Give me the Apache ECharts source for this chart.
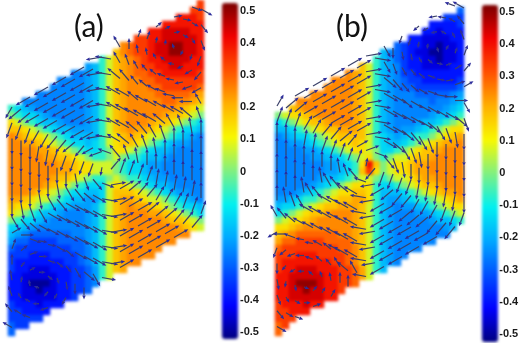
<!DOCTYPE html>
<html><head><meta charset="utf-8">
<style>html,body{margin:0;padding:0;background:#fff}#heat,#over{position:absolute;left:0;top:0;width:520px;height:343px}#heat{filter:blur(1.5px)}</style>
<script src="https://cdn.jsdelivr.net/npm/echarts@6/dist/echarts.min.js"></script></head>
<body><div id="heat"></div><div id="over"></div>
<script>
const panelLabels=['(a)','(b)'];
const barTicks=[-0.5,-0.4,-0.3,-0.2,-0.1,0,0.1,0.2,0.3,0.4,0.5];
const jet=['#00007f','#0000ff','#0050ff','#00a8ff','#00f0f0','#80f080','#f8f800','#ffb000','#ff5000','#f00000','#7a0000'];
const levelValues=[0,0.07,0.14,0.18,0.22,0.25,0.29,0.34,0.39,0.44,0.5];
const heatStartA=[27,26,24,22,20,18,16,15,13,11,9,7,6,4,2,0,0,0,0,0,0,0,0,0,0,0,0,0,0,0,0,0,0,0,0,0,0,0,0,0,0,0,0,0,0,0,0,0];
const heatA=[[7],[7,7],[8,8,8,7],[8,8,8,8,8,8],[8,8,9,9,9,9,8,8],[7,7,8,8,9,9,9,9,9,8],
[5,6,7,7,8,9,9,10,10,9,9,8],[3,5,6,7,7,8,9,9,10,10,9,9,8],[-1,1,3,4,5,6,7,8,8,9,9,9,9,8,8],
[-4,-3,-1,1,3,4,5,6,7,7,8,8,9,9,8,8,8],[-5,-5,-4,-3,-1,1,3,4,5,6,6,7,7,8,8,8,8,8,7],
[-5,-5,-5,-5,-4,-3,-1,1,3,4,5,5,6,6,7,7,7,7,7,7,7],[-5,-5,-5,-5,-5,-4,-3,-1,1,3,4,5,5,5,6,6,7,7,7,7,7,6],
[-5,-5,-5,-5,-5,-5,-5,-4,-3,-1,1,3,4,5,5,5,5,6,6,6,6,6,5,4],
[-5,-5,-5,-5,-5,-5,-5,-5,-5,-4,-3,-1,1,3,4,5,5,5,5,5,6,6,5,5,4,3],
[-1,-2,-3,-4,-5,-5,-5,-5,-5,-5,-5,-4,-3,-1,1,3,4,5,5,5,5,5,5,5,4,3,2,1],
[0,-1,-2,-2,-3,-4,-5,-5,-5,-5,-5,-4,-3,-1,1,3,4,5,5,5,5,5,4,3,3,2,1,0],
[2,1,0,-1,-2,-3,-3,-4,-5,-5,-5,-4,-3,-1,1,3,4,5,5,5,4,3,3,2,1,0,-1,-2],
[3,3,2,1,0,-1,-2,-3,-3,-4,-4,-4,-3,-1,1,3,4,5,4,4,3,2,1,0,-1,-2,-2,-3],
[5,4,3,2,2,1,0,-1,-2,-3,-3,-3,-3,-1,1,2,3,4,3,2,1,1,0,-1,-2,-3,-4,-5],
[5,5,4,4,3,2,1,0,-1,-2,-2,-3,-2,-1,1,2,3,3,2,1,0,-1,-2,-3,-4,-4,-5,-5],
[5,5,5,5,4,4,3,2,1,0,-1,-2,-2,-1,0,2,2,1,0,-1,-2,-3,-3,-4,-5,-5,-5,-5],
[5,5,5,5,5,4,4,3,3,2,1,0,-1,-1,0,1,0,-1,-1,-2,-3,-3,-4,-5,-5,-5,-5,-5],
[5,5,5,5,5,5,5,4,4,3,2,2,1,1,1,0,-1,-2,-2,-3,-4,-4,-5,-5,-5,-5,-5,-5],
[5,5,5,5,5,5,5,4,4,3,2,2,1,1,1,0,-1,-2,-2,-3,-4,-4,-5,-5,-5,-5,-5,-5],
[5,5,5,5,5,5,4,3,3,2,1,0,-1,-1,0,1,0,-1,-1,-2,-3,-4,-4,-5,-5,-5,-5,-5],
[5,5,5,5,5,4,3,2,1,0,-1,-2,-2,-2,1,2,2,1,0,-1,-2,-3,-3,-4,-5,-5,-5,-5],
[5,5,5,4,3,2,1,0,-1,-2,-2,-3,-3,-2,1,3,3,3,2,1,0,-1,-2,-3,-4,-4,-5,-5],
[4,4,3,2,1,1,0,-1,-2,-3,-3,-4,-4,-2,1,3,4,4,3,2,1,1,0,-1,-2,-3,-4,-5],
[3,2,2,1,0,-1,-2,-3,-3,-4,-4,-4,-3,-1,1,3,4,5,4,4,3,2,1,0,-1,-2,-2,-3],
[2,1,0,-1,-2,-3,-3,-4,-5,-5,-5,-4,-3,-1,1,3,4,5,5,5,4,4,3,2,1,0,-1,-2],
[0,-1,-2,-2,-3,-4,-5,-5,-5,-5,-5,-4,-3,-1,1,3,4,5,5,5,5,5,4,3,3,2,1,0],
[-2,-2,-3,-4,-5,-5,-5,-5,-5,-5,-5,-4,-3,-1,1,3,4,5,5,5,5,5,5,5,4,3,2,1],
[-3,-4,-5,-6,-6,-6,-6,-6,-6,-5,-5,-4,-3,-1,1,3,4,5,5,5,5,5,5,5,5,5],
[-4,-6,-6,-7,-7,-7,-7,-6,-6,-6,-6,-4,-3,-1,1,3,4,5,5,5,5,5,5,5],
[-6,-7,-7,-7,-7,-7,-7,-7,-7,-6,-6,-5,-3,-1,1,3,4,5,5,5,5,5],
[-7,-7,-7,-8,-8,-8,-7,-7,-7,-7,-6,-5,-3,-1,1,3,4,5,5,5,5],
[-7,-8,-8,-8,-8,-8,-8,-8,-7,-7,-6,-5,-3,-1,1,3,4,5,5],
[-7,-8,-8,-9,-9,-9,-8,-8,-8,-7,-7,-6,-4,-1,1,3,4],
[-8,-8,-9,-9,-9,-9,-9,-8,-8,-7,-7,-6,-4,-1,1],
[-8,-8,-9,-10,-10,-10,-9,-8,-8,-7,-7,-6,-5],
[-8,-8,-9,-9,-10,-9,-9,-8,-8,-7,-7,-6],
[-8,-8,-9,-9,-9,-9,-9,-8,-8,-7],
[-7,-8,-8,-8,-9,-8,-8,-8],[-7,-7,-8,-8,-8,-8],[-7,-7,-7,-7,-7],[-6,-7,-7],[-6]];
const heatStartB=[0,26,24,22,21,19,17,15,14,12,10,8,7,5,3,2,0,0,0,0,0,0,0,0,0,0,0,0,0,0,0,0,0,0,0,0,0,0,0,0,0,0,0,0,0,0,0,0];
const heatB=[[],[-6],[-7,-7,-7],[-8,-8,-8,-8,-7],[-8,-8,-9,-8,-8,-8],[-8,-8,-9,-9,-9,-9,-8,-8],
[-6,-7,-8,-8,-9,-9,-10,-9,-9,-8],[-3,-5,-6,-7,-8,-9,-9,-10,-10,-9,-9,-8],
[-1,-3,-4,-6,-7,-8,-8,-9,-9,-10,-9,-9,-8],[3,1,-1,-3,-4,-5,-7,-8,-8,-9,-9,-9,-9,-8,-8],
[5,4,3,1,-1,-3,-4,-5,-7,-7,-8,-8,-8,-8,-8,-8,-8],[5,5,5,4,3,1,-1,-3,-4,-5,-6,-7,-7,-8,-8,-8,-8,-8,-7],
[5,5,5,5,4,3,1,-1,-3,-4,-5,-6,-6,-7,-7,-7,-7,-7,-7,-6],
[5,5,5,5,5,5,4,3,1,-1,-3,-4,-5,-5,-5,-6,-6,-6,-6,-6,-5,-4],
[5,5,5,5,5,5,5,5,4,3,1,-1,-3,-4,-5,-5,-5,-5,-5,-6,-5,-5,-4,-3],
[3,4,5,5,5,5,5,5,5,4,3,1,-1,-3,-4,-5,-5,-5,-5,-5,-5,-5,-4,-3,-2],
[0,1,2,2,3,4,5,5,5,5,5,4,3,1,-1,-3,-4,-5,-5,-5,-5,-5,-4,-3,-3,-2,-1],
[-2,-1,0,1,2,3,3,4,5,5,5,4,3,1,-1,-3,-4,-5,-5,-5,-4,-3,-3,-2,-1,0,1],
[-3,-3,-2,-1,0,1,2,3,3,4,4,4,3,1,-1,-3,-4,-5,-4,-4,-3,-2,-1,0,1,2,2],
[-5,-4,-3,-2,-2,-1,0,1,2,3,3,3,3,1,-1,-2,-3,-4,-3,-2,-1,-1,0,1,2,3,4],
[-5,-5,-4,-4,-3,-2,-1,0,1,2,2,3,2,1,-1,-2,-3,-3,-2,-1,0,1,2,3,4,4,5],
[-5,-5,-5,-5,-4,-4,-3,-2,-1,0,1,2,2,1,0,-2,-2,-1,0,1,2,3,3,4,5,5,5],
[-5,-5,-5,-5,-5,-4,-4,-3,-3,-2,-1,0,1,2,0,-1,0,1,1,2,3,3,4,5,5,5,5],
[-5,-5,-5,-5,-5,-5,-5,-4,-4,-3,-2,-1,2,8,3,0,1,2,2,3,4,4,5,5,5,5,5],
[-5,-5,-5,-5,-5,-5,-5,-4,-4,-3,-2,-1,3,7,2,0,1,2,2,3,4,4,5,5,5,5,5],
[-5,-5,-5,-5,-5,-5,-4,-3,-3,-2,-1,0,1,1,0,-1,0,1,1,2,3,4,4,5,5,5,5],
[-5,-5,-5,-5,-5,-4,-3,-2,-1,0,1,2,2,2,-1,-2,-2,-1,0,1,2,3,3,4,5,5,5],
[-5,-5,-5,-4,-3,-2,-1,0,1,2,2,3,3,2,-1,-3,-3,-3,-2,-1,0,1,2,3,4,4,5],
[-4,-4,-3,-2,-1,-1,0,1,2,3,3,4,4,2,-1,-3,-4,-4,-3,-2,-1,-1,0,1,2,3,4],
[-3,-2,-2,-1,0,1,2,3,3,4,4,4,3,1,-1,-3,-4,-5,-4,-4,-3,-2,-1,0,1,2,2],
[-2,-1,0,1,2,3,3,4,5,5,5,4,3,1,-1,-3,-4,-5,-5,-5,-4,-4,-3,-2,-1,0,1],
[0,1,2,2,3,4,5,5,5,5,5,4,3,1,-1,-3,-4,-5,-5,-5,-5,-5,-4,-3,-3,-2,-1],
[2,2,3,4,5,5,5,5,5,5,5,4,3,1,-1,-3,-4,-5,-5,-5,-5,-5,-5,-5,-4,-3],
[3,4,5,6,6,6,6,6,6,5,5,4,3,1,-1,-3,-4,-5,-5,-5,-5,-5,-5,-5,-5],
[4,6,6,7,7,7,7,6,6,6,6,4,3,1,-1,-3,-4,-5,-5,-5,-5,-5,-5],
[6,7,7,7,7,7,7,7,7,6,6,5,3,1,-1,-3,-4,-5,-5,-5,-5],
[7,7,7,8,8,8,7,7,7,7,6,5,3,1,-1,-3,-4,-5,-5],
[7,8,8,8,8,8,8,8,7,7,6,5,3,1,-1,-3,-4,-5],
[7,8,8,9,9,9,8,8,8,7,7,6,4,1,-1,-3],
[8,8,9,9,9,9,9,8,8,7,7,6,4,1],
[8,8,9,10,10,10,9,8,8,7,7,6],
[8,8,9,9,10,9,9,8,8,7],
[8,8,9,9,9,9,9,8,8],
[7,8,8,8,9,8,8],[7,7,8,8,8],[7,7,7],[6,7],[6]];
const arrowXA=[12,21,30,39,48,57,66,75,84,93,102,111,120,129,138,147,156,165,174,183,192,201];
const arrowY0A=[107,109,97,99,87,89,77,79,67,69,57,59,47,49,37,39,27,29,17,19,7,9];
const arrowXB=[277,286,295,304,313,322,331,340,348,357,366,375,384,393,402,411,419,428,437,446,455,464];
const arrowY0B=[106,108,96,98,86,88,76,78,66,68,56,58,46,48,36,38,26,28,16,18,6,8];
const arrowRowStep=15.75;
const arrowAngA=[[24,25,27,27,27,27,27,30,3,7,9,10,11,13,15],[22,25,27,27,27,27,28,31,0,4,5,8,12,15],[21,22,25,27,27,27,27,29,32,34,2,3,10,15,16],[21,21,24,26,27,27,28,30,33,35,0,0,16,18],[21,21,21,24,26,27,27,30,33,33,35,34,32,23,20],[21,21,21,23,25,27,28,31,33,33,33,32,29,24],[21,21,21,21,23,25,27,30,33,33,33,32,31,28,24],[21,21,21,21,22,25,28,31,33,33,33,33,30,27],[21,21,21,21,21,23,25,29,32,33,33,33,33,32,27],[21,21,21,21,21,21,25,31,33,33,33,33,33,30],[19,19,19,19,19,19,20,26,34,35,35,35,35,35,35],[17,17,17,17,17,17,16,5,1,1,1,1,1,1],[12,12,14,15,15,15,15,13,7,3,3,3,3,3,3],[9,11,13,15,15,15,14,11,7,4,3,3,3,3],[7,10,12,13,14,15,14,12,10,7,5,3,3,3,3],[7,10,13,14,15,15,13,11,9,7,5,4,3,3],[4,8,12,14,15,15,15,12,10,9,8,6,4,3,3],[3,8,14,16,16,15,14,11,9,9,8,6,4,3],[1,1,11,17,17,17,15,12,9,9,9,8,6,5,3],[35,33,24,20,19,18,15,11,9,9,9,8,7,5],[34,33,30,25,21,20,18,14,10,9,9,9,8,7,5],[33,31,29,25,23,21,12,11,9,9,9,9,9,7]];
const arrowAngB=[[6,7,9,9,9,9,9,12,21,25,27,28,29,31,33],[4,7,9,9,9,9,10,13,18,22,23,26,30,33],[3,4,7,9,9,9,9,11,14,16,20,21,28,33,34],[3,3,6,8,9,9,10,12,15,17,18,18,34,0],[3,3,3,6,8,9,9,12,15,15,17,16,14,5,2],[3,3,3,5,7,9,10,13,15,15,15,14,11,6],[3,3,3,3,5,7,9,12,15,15,15,14,13,10,6],[3,3,3,3,4,7,10,13,15,15,15,15,12,9],[3,3,3,3,3,5,7,11,14,15,15,15,15,14,9],[3,3,3,3,3,3,7,13,15,15,15,15,15,12],[1,1,1,1,1,1,2,8,16,17,17,17,17,17,17],[35,35,35,35,35,35,34,23,19,19,19,19,19,19],[30,30,32,33,33,33,33,31,25,21,21,21,21,21,21],[27,29,31,33,33,33,32,29,25,22,21,21,21,21],[25,28,30,31,32,33,32,30,28,25,23,21,21,21,21],[25,28,31,32,33,33,31,29,27,25,23,22,21,21],[22,26,30,32,33,33,33,30,28,27,26,24,22,21,21],[21,26,32,34,34,33,32,29,27,27,26,24,22,21],[19,19,29,35,35,35,33,30,27,27,27,26,24,23,21],[17,15,6,2,1,0,33,29,27,27,27,26,25,23],[16,15,12,7,3,2,0,32,28,27,27,27,26,25,23],[15,13,11,7,5,3,30,29,27,27,27,27,27,25]];
const arrowLen=[[12,15,15,15,15,15,15,12,10,10,10,10,10,10,10],[15,15,15,15,15,15,15,13,12,8,6,6,6,8],[15,15,15,15,15,15,15,15,13,11,8,6,6,6,8],[15,15,15,15,15,15,15,15,12,8,8,6,5,6],[15,15,15,15,15,15,15,15,15,12,8,8,6,6,8],[15,15,15,15,15,15,15,15,15,13,10,8,6,6],[15,15,15,15,15,15,15,15,15,15,13,10,8,8,8],[15,15,15,15,15,14,14,15,15,15,15,13,11,10],[15,15,15,15,15,13,13,13,14,15,15,15,15,13,11],[15,15,15,15,15,12,13,13,14,15,15,15,14,13],[15,15,15,15,15,15,13,8,12,15,15,15,15,15,13],[15,15,15,15,15,15,13,14,14,15,15,15,15,13],[12,12,15,15,15,15,14,15,15,15,15,15,15,15,15],[10,11,14,15,15,15,15,15,15,15,15,15,15,15],[8,8,9,11,13,15,15,15,15,15,15,15,15,15,15],[8,7,8,10,13,15,15,15,15,15,15,15,15,15],[7,6,6,8,10,13,15,15,15,15,15,15,15,15,15],[6,5,6,8,10,13,15,15,15,15,15,15,15,15],[8,6,5,6,8,11,13,15,15,15,15,15,15,15,15],[8,6,5,6,8,11,14,15,15,15,15,15,15,15],[10,7,6,6,8,10,12,15,15,15,15,15,15,15,15],[12,10,10,10,10,10,11,13,15,15,15,15,15,13]];

function heatData(rows,starts){const out=[];rows.forEach((r,j)=>r.forEach((v,i)=>out.push([starts[j]+i,j,Math.sign(v)*levelValues[Math.abs(v)]])));return out;}
function arrowData(xs,y0s,angs){const out=[];angs.forEach((col,k)=>col.forEach((a,n)=>out.push([xs[k],y0s[k]+n*arrowRowStep,a*10,arrowLen[k][n]])));return out;}
const idx=n=>Array.from({length:n},(_,i)=>i);
function catAxis(n,inv){return {type:'category',data:idx(n),show:false,inverse:!!inv};}
const heat=echarts.init(document.getElementById('heat'),null,{renderer:'canvas'});
heat.setOption({animation:false,backgroundColor:'transparent',
 grid:[{left:8,top:0,width:196,height:336},{left:275,top:0,width:189,height:336}],
 xAxis:[Object.assign(catAxis(28),{gridIndex:0}),Object.assign(catAxis(27),{gridIndex:1})],
 yAxis:[Object.assign(catAxis(48,true),{gridIndex:0}),Object.assign(catAxis(48,true),{gridIndex:1})],
 visualMap:[
  {type:'continuous',seriesIndex:0,min:-0.52,max:0.52,left:222,top:3,itemWidth:16,itemHeight:336,padding:0,calculable:false,text:null,showLabel:false,hoverLink:false,inRange:{color:jet}},
  {type:'continuous',seriesIndex:1,min:-0.52,max:0.52,left:482,top:5,itemWidth:16,itemHeight:337,padding:0,calculable:false,text:null,showLabel:false,hoverLink:false,inRange:{color:jet}}],
 series:[
  {type:'heatmap',xAxisIndex:0,yAxisIndex:0,data:heatData(heatA,heatStartA),silent:true,progressive:0},
  {type:'heatmap',xAxisIndex:1,yAxisIndex:1,data:heatData(heatB,heatStartB),silent:true,progressive:0}]});

function arrowItem(params,api){
 const x=api.value(0),y=api.value(1),a=api.value(2)*Math.PI/180,l=api.value(3)*1.1;
 const p0=api.coord([x,y]),p1=api.coord([x+l*Math.cos(a),y-l*Math.sin(a)]);
 const ux=Math.cos(a),uy=-Math.sin(a),hl=4,hw=1.7;
 const b=[p1[0]-ux*hl,p1[1]-uy*hl];
 return {type:'group',children:[
  {type:'line',shape:{x1:p0[0],y1:p0[1],x2:b[0],y2:b[1]},style:{stroke:'#3a4068',lineWidth:1.2}},
  {type:'polygon',shape:{points:[p1,[b[0]-uy*hw,b[1]+ux*hw],[b[0]+uy*hw,b[1]-ux*hw]]},style:{fill:'#2c2c9a'}}]};
}
const over=echarts.init(document.getElementById('over'),null,{renderer:'canvas'});
const fmt=v=>String(+v.toFixed(1));
function barAxis(g){return {type:'value',gridIndex:g,min:-0.5,max:0.5,interval:0.1,position:'right',axisLine:{show:false},axisTick:{show:false},splitLine:{show:false},
 axisLabel:{formatter:fmt,margin:2,color:'#1a1a1a',fontFamily:'Liberation Sans',fontWeight:'bold',fontSize:11,align:'left'}};}
const hidden=(g,min,max,inv)=>({type:'value',gridIndex:g,min,max,inverse:inv,show:false});
over.setOption({animation:false,backgroundColor:'transparent',
 title:[{text:panelLabels[0],left:69,top:7,textStyle:{fontFamily:'Lato',fontWeight:'normal',fontSize:30,color:'#111'}},
        {text:panelLabels[1],left:331,top:7,textStyle:{fontFamily:'Lato',fontWeight:'normal',fontSize:30,color:'#111'}}],
 grid:[{left:0,top:0,width:520,height:343},{left:237,top:11,width:1,height:321},{left:497,top:12,width:1,height:322}],
 xAxis:[hidden(0,0,520,false),hidden(1,0,1,false),hidden(2,0,1,false)],
 yAxis:[hidden(0,0,343,true),barAxis(1),barAxis(2)],
 series:[
  {type:'custom',xAxisIndex:0,yAxisIndex:0,clip:false,silent:true,renderItem:arrowItem,data:arrowData(arrowXA,arrowY0A,arrowAngA)},
  {type:'custom',xAxisIndex:0,yAxisIndex:0,clip:false,silent:true,renderItem:arrowItem,data:arrowData(arrowXB,arrowY0B,arrowAngB)}]});
</script></body></html>
